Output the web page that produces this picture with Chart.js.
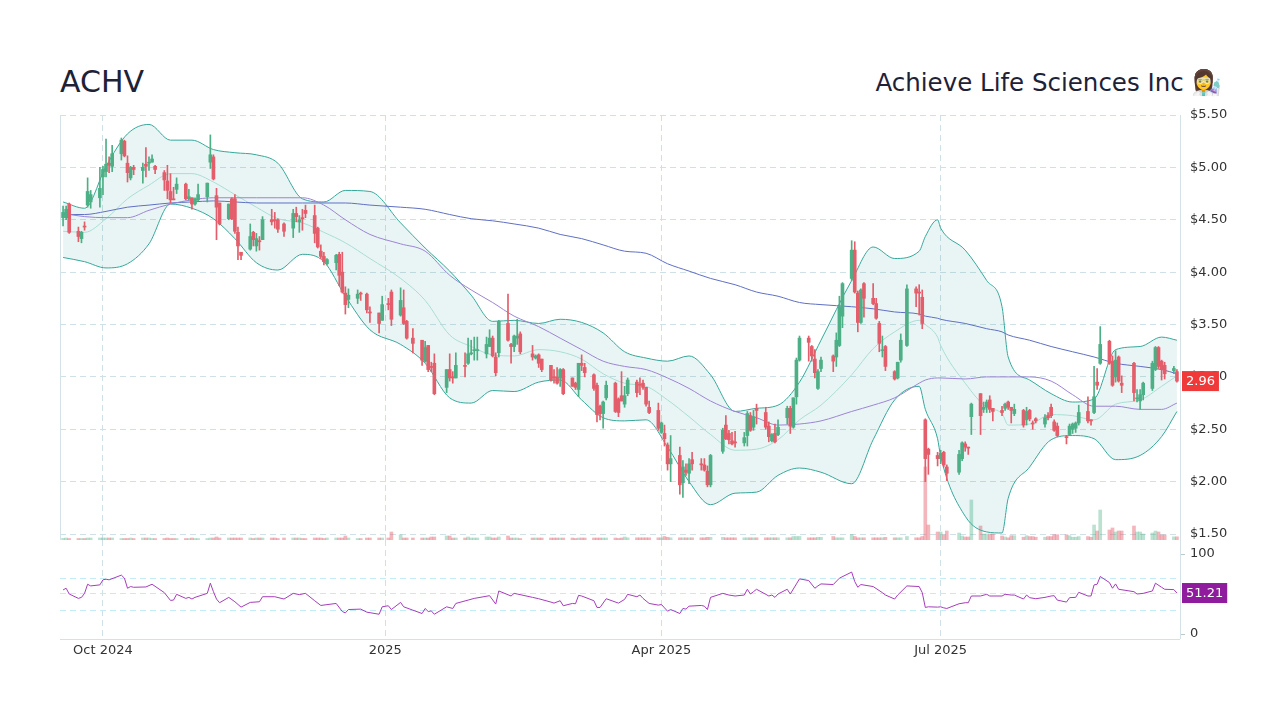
<!DOCTYPE html>
<html>
<head>
<meta charset="utf-8">
<script src="https://cdn.jsdelivr.net/npm/chart.js@4.4.1/dist/chart.umd.min.js"></script>
<style>
body { margin: 0; background: #fff; width: 1280px; height: 720px; overflow: hidden; position: relative; font-family: "DejaVu Sans", sans-serif; }
#sym { position: absolute; left: 60px; top: 67px; font-size: 30px; line-height: 30px; color: #1e2236; }
#name { position: absolute; right: 58px; top: 70px; font-size: 24.5px; line-height: 25px; color: #1e2236; white-space: nowrap; font-family: "DejaVu Sans", "Noto Color Emoji", sans-serif; }
#priceWrap { position: absolute; left: 0; top: 0; width: 1280px; height: 545px; }
#rsiWrap { position: absolute; left: 0; top: 540px; width: 1280px; height: 130px; }
</style>
</head>
<body>
<div id="sym">ACHV</div>
<div id="name">Achieve Life Sciences Inc 👩‍🔬</div>
<div id="priceWrap"><canvas id="price"></canvas></div>
<div id="rsiWrap"><canvas id="rsi"></canvas></div>
<script>
// daily candles, Sep 18 2024 .. Sep 16 2025
const openP = [
  4.52,4.52,4.65,4.39,4.32,4.44,4.64,4.67,4.71,4.91,
  4.96,5.04,5.01,5.13,5.25,5.04,4.90,5.00,4.97,5.03,
  5.04,5.05,5.01,4.95,4.87,4.77,4.70,4.79,4.84,4.70,
  4.71,4.65,4.69,4.72,5.05,5.10,4.73,4.66,4.51,4.70,
  4.70,4.38,4.19,4.22,4.38,4.25,4.30,4.31,4.50,4.50,
  4.50,4.46,4.42,4.56,4.48,4.52,4.59,4.54,4.42,4.20,
  4.15,4.08,4.09,4.17,4.00,3.80,3.74,3.75,3.80,3.79,
  3.62,3.61,3.54,3.70,3.81,3.59,3.66,3.53,3.37,3.35,
  3.15,3.30,3.10,3.13,2.90,3.07,3.00,2.99,3.11,3.13,
  3.22,3.25,3.25,3.22,3.29,3.37,3.19,3.23,3.51,3.31,
  3.29,3.37,3.41,3.22,3.18,3.21,3.17,3.11,3.00,3.00,
  2.99,3.07,2.99,2.94,2.88,3.13,3.09,3.02,2.92,2.72,
  2.65,2.80,2.94,2.79,2.82,2.74,2.84,2.95,2.93,2.94,
  2.90,2.71,2.68,2.47,2.46,2.35,2.17,2.25,1.99,2.11,
  2.08,2.21,2.17,2.16,2.10,1.97,2.29,2.54,2.46,2.39,
  2.38,2.37,2.44,2.63,2.52,2.70,2.66,2.53,2.39,2.46,
  2.45,2.61,2.70,2.52,2.81,3.16,3.37,3.29,3.17,2.89,
  3.08,3.20,3.19,3.30,3.58,3.94,4.21,3.80,3.52,3.89,
  3.75,3.70,3.51,3.25,3.29,3.05,2.99,3.16,3.30,3.84,
  3.81,3.76,2.59,2.31,2.25,2.22,2.28,2.14,2.09,2.22,
  2.36,2.33,2.62,2.84,2.69,2.71,2.78,2.70,2.68,2.70,
  2.76,2.71,2.65,2.68,2.59,2.68,2.56,2.60,2.55,2.63,
  2.71,2.57,2.53,2.43,2.45,2.50,2.51,2.56,2.67,2.59,
  2.66,2.95,3.13,3.34,3.15,3.00,3.19,2.94,3.13,2.79,
  2.77,2.83,2.89,3.07,3.28,3.15,3.11,3.06,3.05
];
const highP = [
  4.63,4.63,4.66,4.43,4.39,4.48,4.90,4.78,5.00,5.01,
  5.27,5.10,5.21,5.28,5.26,5.11,5.01,5.02,5.04,5.19,
  5.10,5.12,5.02,4.97,5.02,4.94,4.81,4.90,4.85,4.79,
  4.71,4.71,4.84,4.85,5.31,5.12,4.80,4.66,4.65,4.71,
  4.74,4.43,4.19,4.46,4.39,4.37,4.34,4.53,4.60,4.57,
  4.51,4.47,4.60,4.62,4.54,4.60,4.64,4.64,4.43,4.26,
  4.19,4.13,4.17,4.19,4.19,3.86,3.84,3.83,3.81,3.80,
  3.67,3.61,3.77,3.75,3.83,3.85,3.83,3.54,3.46,3.35,
  3.34,3.30,3.14,3.22,3.07,3.22,3.05,3.23,3.23,3.37,
  3.35,3.38,3.38,3.38,3.45,3.39,3.23,3.54,3.79,3.32,
  3.40,3.55,3.43,3.30,3.21,3.22,3.17,3.11,3.07,3.09,
  3.08,3.08,2.99,2.95,3.13,3.21,3.13,3.03,2.94,2.73,
  2.77,2.96,2.95,2.80,3.05,2.91,2.99,2.97,2.99,2.97,
  2.90,2.77,2.75,2.57,2.54,2.37,2.44,2.33,2.20,2.17,
  2.22,2.28,2.22,2.22,2.15,2.26,2.51,2.63,2.49,2.47,
  2.48,2.47,2.67,2.66,2.68,2.74,2.71,2.57,2.46,2.55,
  2.59,2.72,2.72,2.80,3.18,3.39,3.39,3.30,3.26,3.07,
  3.19,3.21,3.42,3.77,3.90,4.30,4.29,3.82,3.84,3.90,
  3.89,3.75,3.53,3.39,3.30,3.06,3.14,3.41,3.88,3.86,
  3.88,3.83,2.60,2.32,2.28,2.30,2.29,2.16,2.30,2.38,
  2.38,2.33,2.75,2.84,2.76,2.78,2.82,2.70,2.72,2.75,
  2.77,2.71,2.74,2.69,2.71,2.69,2.58,2.61,2.64,2.66,
  2.74,2.59,2.56,2.44,2.55,2.56,2.57,2.73,2.81,2.59,
  3.10,3.08,3.48,3.35,3.20,3.25,3.20,3.01,3.14,2.88,
  2.88,2.95,3.15,3.29,3.29,3.16,3.14,3.10,3.07
];
const lowP = [
  4.44,4.50,4.37,4.29,4.28,4.40,4.62,4.61,4.62,4.74,
  4.91,4.95,4.96,5.07,5.10,4.86,4.88,4.93,4.85,4.91,
  4.97,5.05,4.94,4.78,4.70,4.66,4.69,4.75,4.69,4.69,
  4.60,4.64,4.68,4.67,4.99,4.88,4.31,4.45,4.50,4.50,
  4.37,4.12,4.12,4.21,4.25,4.20,4.21,4.31,4.45,4.42,
  4.38,4.34,4.33,4.48,4.38,4.40,4.52,4.28,4.23,4.13,
  4.07,4.07,4.02,3.87,3.80,3.60,3.66,3.70,3.73,3.61,
  3.52,3.42,3.54,3.64,3.49,3.58,3.50,3.36,3.23,3.11,
  3.14,3.05,3.05,2.83,2.85,2.96,2.94,2.99,3.00,3.12,
  3.21,3.16,3.16,3.18,3.29,3.19,3.01,3.19,3.34,3.13,
  3.24,3.31,3.22,3.16,3.17,3.09,3.05,2.96,2.94,2.93,
  2.91,2.83,2.91,2.88,2.81,3.06,3.00,2.87,2.57,2.59,
  2.51,2.78,2.66,2.62,2.77,2.71,2.82,2.81,2.83,2.88,
  2.72,2.65,2.49,2.46,2.34,2.11,2.00,1.88,1.85,2.06,
  1.98,2.11,2.11,2.10,1.95,1.95,2.27,2.40,2.36,2.35,
  2.33,2.34,2.34,2.48,2.49,2.55,2.50,2.38,2.38,2.37,
  2.44,2.55,2.46,2.51,2.74,3.15,3.15,3.15,2.99,2.88,
  3.05,3.05,3.10,3.29,3.47,3.92,3.80,3.43,3.51,3.57,
  3.69,3.55,3.24,3.19,3.06,2.97,2.98,3.14,3.29,3.67,
  3.59,3.46,2.00,2.07,2.15,2.17,2.14,2.01,2.07,2.20,
  2.29,2.26,2.45,2.45,2.66,2.66,2.66,2.58,2.63,2.68,
  2.69,2.56,2.63,2.52,2.54,2.58,2.50,2.56,2.52,2.59,
  2.61,2.48,2.43,2.36,2.44,2.46,2.47,2.54,2.56,2.54,
  2.65,2.88,3.12,3.12,2.91,2.95,2.95,2.85,2.77,2.76,
  2.69,2.78,2.87,3.06,3.08,2.97,2.98,3.03,2.95
];
const closeP = [
  4.57,4.60,4.38,4.34,4.38,4.43,4.77,4.74,4.80,4.98,
  5.03,5.02,5.13,5.26,5.11,4.95,5.00,4.98,5.00,5.01,
  5.05,5.08,4.98,4.88,4.78,4.69,4.69,4.84,4.70,4.72,
  4.65,4.70,4.74,4.85,5.12,4.89,4.62,4.46,4.65,4.51,
  4.39,4.25,4.16,4.34,4.31,4.32,4.29,4.50,4.48,4.49,
  4.41,4.39,4.56,4.53,4.50,4.51,4.56,4.37,4.24,4.15,
  4.10,4.12,4.16,3.97,3.81,3.69,3.78,3.79,3.79,3.64,
  3.61,3.51,3.69,3.69,3.55,3.73,3.51,3.37,3.32,3.16,
  3.28,3.07,3.09,2.84,3.07,2.99,2.99,3.11,3.10,3.22,
  3.23,3.26,3.26,3.31,3.37,3.20,3.04,3.53,3.35,3.29,
  3.39,3.39,3.24,3.19,3.20,3.13,3.07,2.97,2.99,2.94,
  3.07,2.84,2.91,2.90,3.13,3.11,3.04,2.89,2.64,2.65,
  2.76,2.92,2.67,2.66,2.77,2.82,2.97,2.85,2.92,2.90,
  2.74,2.66,2.51,2.56,2.41,2.17,2.22,1.97,2.14,2.09,
  2.17,2.17,2.16,2.11,1.97,2.25,2.49,2.41,2.40,2.36,
  2.37,2.42,2.65,2.49,2.62,2.68,2.52,2.43,2.45,2.38,
  2.52,2.70,2.53,2.80,3.16,3.37,3.33,3.20,3.04,3.05,
  3.16,3.15,3.35,3.67,3.89,4.21,3.81,3.52,3.83,3.75,
  3.70,3.56,3.32,3.26,3.10,2.98,3.14,3.35,3.84,3.80,
  3.80,3.51,2.22,2.26,2.22,2.27,2.16,2.08,2.26,2.37,
  2.33,2.32,2.74,2.63,2.71,2.76,2.69,2.67,2.66,2.74,
  2.71,2.68,2.69,2.54,2.67,2.60,2.55,2.58,2.61,2.61,
  2.63,2.49,2.44,2.42,2.53,2.55,2.56,2.66,2.58,2.58,
  2.81,2.92,3.31,3.13,2.92,3.16,2.96,2.92,2.85,2.80,
  2.83,2.94,3.13,3.28,3.10,3.07,3.03,3.08,2.96
];
// thousands of shares
const volume = [
  170,200,150,150,150,150,200,200,200,200,
  200,200,200,150,150,150,200,150,200,200,
  200,150,150,150,200,150,150,150,150,150,
  200,150,150,150,200,200,300,200,200,200,
  200,200,200,200,150,200,200,200,200,200,
  150,200,200,200,200,150,150,200,200,200,
  150,200,200,200,200,400,200,150,150,200,
  200,200,200,200,800,520,200,200,200,200,
  200,200,300,300,400,400,200,200,200,300,
  200,200,200,300,300,200,200,300,400,200,
  200,200,150,200,200,200,200,200,200,200,
  200,200,200,150,200,200,200,200,200,200,
  200,200,200,150,200,300,220,220,220,220,
  220,220,220,220,350,270,220,220,220,220,
  220,220,220,220,270,270,270,220,220,220,
  220,220,220,220,220,220,220,220,220,220,
  220,220,220,350,350,350,220,220,220,270,
  270,350,220,220,220,550,350,220,220,220,
  220,220,220,220,270,220,220,220,350,220,
  220,350,7300,1500,800,800,500,900,700,400,
  300,300,4000,1400,600,600,600,600,400,300,
  220,430,430,280,430,340,340,280,280,340,
  340,530,530,530,430,280,280,340,340,280,
  1500,900,3000,1000,1200,800,900,900,1400,800,
  800,600,700,900,800,500,500,320,320
];

// indicator lines, read at these candle indices
const bandIdx = [0,5,10,15,20,25,30,35,40,45,50,55,60,65,70,75,80,85,90,95,100,105,110,115,120,125,130,135,140,145,150,155,160,165,170,175,180,185,190,192,194,195,200,205,208,210,215,220,225,230,235,240,245,248];
const bbUpper = [4.67,4.61,5.01,5.32,5.41,5.26,5.26,5.17,5.14,5.12,5.04,4.70,4.67,4.78,4.77,4.47,4.23,4.01,3.78,3.53,3.54,3.51,3.55,3.52,3.42,3.24,3.18,3.15,3.20,3.02,2.67,2.70,2.73,2.95,3.35,3.92,4.24,4.13,4.20,4.34,4.50,4.42,4.21,3.92,3.67,3.19,2.97,2.84,2.76,2.79,3.26,3.29,3.38,3.35];
const bbMiddle = [4.39,4.38,4.51,4.70,4.83,4.94,4.94,4.86,4.74,4.62,4.51,4.47,4.38,4.28,4.13,3.94,3.73,3.40,3.29,3.21,3.20,3.26,3.24,3.17,3.03,2.94,2.91,2.78,2.62,2.45,2.30,2.31,2.40,2.59,2.73,3.02,3.27,3.43,3.54,3.50,3.38,3.30,2.94,2.71,2.65,2.54,2.55,2.64,2.63,2.59,2.74,2.78,2.91,3.01];
const bbLower = [4.14,4.10,4.04,4.08,4.27,4.65,4.61,4.51,4.32,4.09,4.02,4.17,4.10,3.77,3.45,3.31,3.13,2.80,2.75,2.87,2.86,2.95,2.97,2.78,2.61,2.58,2.59,2.33,2.00,1.78,1.89,1.90,2.06,2.13,2.09,1.98,2.40,2.78,2.91,2.69,2.41,2.24,1.67,1.52,1.51,1.84,2.14,2.40,2.44,2.41,2.21,2.25,2.43,2.67];
const sma50 = [4.56,4.53,4.52,4.52,4.59,4.65,4.69,4.71,4.71,4.71,4.71,4.71,4.64,4.50,4.36,4.27,4.20,3.97,3.83,3.71,3.58,3.48,3.37,3.26,3.15,3.10,3.07,2.99,2.89,2.77,2.67,2.61,2.54,2.55,2.58,2.67,2.73,2.80,2.94,2.97,2.99,2.99,2.98,3.00,3.00,3.00,3.00,2.96,2.83,2.72,2.72,2.69,2.69,2.75];
const sma200 = [4.55,4.55,4.58,4.62,4.64,4.66,4.67,4.68,4.67,4.66,4.66,4.66,4.66,4.66,4.64,4.62,4.60,4.55,4.51,4.49,4.46,4.42,4.36,4.32,4.26,4.20,4.18,4.08,4.01,3.94,3.88,3.81,3.77,3.71,3.69,3.67,3.65,3.62,3.60,3.58,3.56,3.55,3.51,3.46,3.43,3.40,3.35,3.29,3.24,3.19,3.13,3.10,3.07,3.03];

const rsiIdx = [0,1,2,3,4,5,6,7,8,9,10,11,13,14,15,16,17,19,21,23,25,26,27,28,29,30,31,33,34,35,36,37,38,40,42,43,46,47,49,51,52,54,56,57,59,62,64,65,66,68,69,71,72,73,74,75,76,78,79,80,81,82,83,84,86,87,89,91,94,96,97,99,100,101,103,105,107,108,110,111,112,113,114,115,117,118,119,121,123,125,126,127,128,129,131,132,133,134,135,136,137,138,139,140,142,143,144,145,146,148,150,151,152,153,154,155,156,157,158,159,160,161,162,164,165,166,168,169,170,171,173,175,176,177,178,180,183,184,185,186,188,190,191,192,193,194,195,196,197,198,200,201,202,203,205,206,208,209,211,212,213,214,215,217,218,220,221,222,223,224,226,227,228,229,230,231,232,233,234,235,236,238,239,241,242,243,245,246,247,248];
const rsiVal = [55.1,57.2,50.0,44.5,45.8,50.8,62.2,60.1,61.4,67.7,68.5,67.7,73.6,69.8,57.2,59.3,58.4,58.8,62.2,51.7,42.0,42.4,49.6,44.5,45.8,43.7,45.8,50.8,63.5,52.9,43.7,39.1,45.8,40.3,33.6,39.5,40.3,46.6,46.6,43.7,50.8,49.2,50.8,41.6,35.7,38.2,28.1,26.4,30.6,31.1,27.3,24.7,34.0,35.3,30.6,39.5,34.0,29.8,25.6,31.9,28.1,28.9,24.7,34.0,31.9,38.2,42.4,44.5,47.9,37.4,53.8,47.5,50.8,50.0,45.8,44.1,39.9,38.6,41.6,35.3,38.2,37.8,48.3,47.5,41.6,33.2,33.2,44.1,38.6,43.3,49.6,46.6,48.7,44.5,38.2,36.1,36.9,32.7,28.5,30.6,25.6,31.9,31.1,34.8,35.7,34.8,30.6,45.8,50.8,48.7,47.5,48.7,55.9,50.0,52.9,55.9,49.6,47.5,48.7,45.8,50.0,55.9,50.0,62.6,68.9,66.8,57.2,60.1,62.6,61.8,69.8,77.4,65.6,58.4,61.8,59.3,51.7,48.7,43.7,48.7,60.1,59.3,51.7,33.2,34.0,33.6,34.0,32.7,31.9,37.8,39.1,39.1,47.5,47.5,49.6,47.5,47.5,49.6,48.7,48.7,43.7,48.7,45.4,44.1,45.8,47.5,47.9,42.4,39.9,45.4,45.8,52.1,47.5,47.5,61.4,62.2,71.9,64.3,57.2,62.6,55.9,52.9,50.0,50.8,53.8,63.5,58.4,55.9,55.5,51.21];

const priceTicks = [1.5, 2.0, 2.5, 3.0, 3.5, 4.0, 4.5, 5.0, 5.5];
const tickDates = ['2024-10-01', '2025-01-01', '2025-04-01', '2025-07-01'];
const tickLabels = ['Oct 2024', '2025', 'Apr 2025', 'Jul 2025'];
const holidays = ['2024-11-28','2024-12-25','2025-01-01','2025-01-09','2025-01-20','2025-02-17','2025-04-18','2025-05-26','2025-06-19','2025-07-04','2025-09-01'];

const DAY = 86400000;
const startT = Date.UTC(2024, 8, 17);   // left edge of the plot
const endT = Date.UTC(2025, 8, 17);     // right edge

function dayOf(iso) {
  return (Date.parse(iso + 'T00:00:00Z') - startT) / DAY;
}

// trading days after the left edge, one per candle
function tradingDays(n) {
  let out = [];
  let t = startT + DAY;
  while (out.length < n) {
    let d = new Date(t);
    let wd = d.getUTCDay();
    let iso = d.toISOString().slice(0, 10);
    if (wd !== 0 && wd !== 6 && !holidays.includes(iso)) out.push((t - startT) / DAY);
    t += DAY;
  }
  return out;
}

const days = tradingDays(closeP.length);
const tickDays = tickDates.map(dayOf);
const xMax = (endT - startT) / DAY;

Chart.defaults.font.family = "'DejaVu Sans', sans-serif";
Chart.defaults.font.size = 13;
Chart.defaults.color = '#333';

const upCol = '#4caf85';
const downCol = '#e35d6a';
const bandCol = '#35a89a';
const gridCol = '#cfe0e7';
const axisCol = '#d4e2e8';

const isUp = closeP.map((c, i) => c >= openP[i]);
const candleCols = isUp.map(u => u ? upCol : downCol);
const volCols = isUp.map(u => u ? 'rgba(76,175,133,0.38)' : 'rgba(227,93,106,0.45)');

const wickData = days.map((d, i) => ({ x: d, y: [lowP[i], highP[i]] }));
const bodyData = days.map((d, i) => ({ x: d, y: [openP[i], closeP[i]] }));
const volData = days.map((d, i) => ({ x: d, y: volume[i] }));
const bandLine = arr => bandIdx.map((k, j) => ({ x: days[k], y: arr[j] }));
const rsiData = rsiIdx.map((k, j) => ({ x: days[k], y: rsiVal[j] }));

function lineSet(data, color, extra) {
  return Object.assign({
    type: 'line', data: data, borderColor: color, borderWidth: 1,
    pointRadius: 0, fill: false, cubicInterpolationMode: 'monotone'
  }, extra || {});
}

// axis frame plus the last-value tag on the right
function framePlugin(id, value, tagColor, withBottom) {
  return {
    id: id,
    afterDraw(chart) {
      const { ctx, chartArea: a } = chart;
      ctx.save();
      ctx.strokeStyle = axisCol;
      ctx.lineWidth = 1;
      ctx.beginPath();
      ctx.moveTo(a.right + 0.5, a.top);
      ctx.lineTo(a.right + 0.5, a.bottom);
      if (withBottom) {
        ctx.moveTo(a.left, a.bottom + 0.5);
        ctx.lineTo(a.right, a.bottom + 0.5);
      } else {
        ctx.moveTo(a.left + 0.5, a.top);
        ctx.lineTo(a.left + 0.5, a.bottom);
      }
      ctx.stroke();

      const y = chart.scales.y.getPixelForValue(value);
      const txt = value.toFixed(2);
      ctx.font = "13px 'DejaVu Sans', sans-serif";
      const w = ctx.measureText(txt).width + 8;
      ctx.fillStyle = tagColor;
      ctx.fillRect(a.right + 2, y - 10, w, 20);
      ctx.fillStyle = '#fff';
      ctx.textAlign = 'left';
      ctx.textBaseline = 'middle';
      ctx.fillText(txt, a.right + 6, y + 1);
      ctx.restore();
    }
  };
}

// fixed axis width, no extra label padding above/below the plot
function fitRight(s) {
  s.width = 100;
  s.paddingTop = 0;
  s.paddingBottom = 0;
}

const xGrid = {
  type: 'linear', min: 0, max: xMax, offset: false,
  afterBuildTicks: s => { s.ticks = tickDays.map(v => ({ value: v })); },
  grid: { color: gridCol, drawTicks: false, offset: false },
  border: { display: false, dash: [6, 4] }
};

new Chart(document.getElementById('price'), {
  data: {
    datasets: [
      lineSet(bandLine(bbUpper), bandCol, { fill: '+1', backgroundColor: 'rgba(53,168,154,0.11)', order: 4 }),
      lineSet(bandLine(bbLower), bandCol, { order: 4 }),
      lineSet(bandLine(bbMiddle), '#a9ddd5', { order: 3 }),
      lineSet(bandLine(sma50), '#9c84d4', { order: 2 }),
      lineSet(bandLine(sma200), '#5f6fc4', { order: 2 }),
      { type: 'bar', data: volData, yAxisID: 'yv', backgroundColor: volCols, barThickness: 3, grouped: false, order: 5 },
      { type: 'bar', data: wickData, backgroundColor: candleCols, barThickness: 1, grouped: false, order: 1 },
      { type: 'bar', data: bodyData, backgroundColor: candleCols, barThickness: 3, grouped: false, minBarLength: 1, order: 0 }
    ]
  },
  options: {
    responsive: true,
    maintainAspectRatio: false,
    animation: false,
    layout: { padding: { left: 60, top: 115, right: 0, bottom: 5 } },
    plugins: { legend: { display: false }, tooltip: { enabled: false } },
    scales: {
      x: Object.assign({}, xGrid, {
        ticks: { display: false },
        afterFit: s => { s.height = 0; }
      }),
      y: {
        position: 'right',
        min: 1.443, max: 5.5,
        afterBuildTicks: s => { s.ticks = priceTicks.map(v => ({ value: v })); },
        ticks: { callback: v => '$' + v.toFixed(2), padding: 10, color: '#333' },
        grid: { color: gridCol, drawTicks: false },
        border: { display: false, dash: [6, 4] },
        afterFit: fitRight
      },
      yv: { display: false, min: 0, max: 42500 }
    }
  },
  plugins: [framePlugin('priceFrame', closeP[closeP.length - 1], '#f03a3a', false)]
});

new Chart(document.getElementById('rsi'), {
  type: 'line',
  data: {
    datasets: [
      { data: rsiData, borderColor: '#a63cbb', borderWidth: 1, pointRadius: 0, tension: 0 }
    ]
  },
  options: {
    responsive: true,
    maintainAspectRatio: false,
    animation: false,
    layout: { padding: { left: 60, top: 0, right: 0, bottom: 0 } },
    plugins: { legend: { display: false }, tooltip: { enabled: false } },
    scales: {
      x: Object.assign({}, xGrid, {
        ticks: {
          padding: 4, maxRotation: 0, autoSkip: false, color: '#333',
          callback: v => tickLabels[tickDays.indexOf(v)]
        },
        afterFit: s => { s.height = 31; }
      }),
      y: {
        position: 'right',
        min: -6.25, max: 117.5,
        afterBuildTicks: s => { s.ticks = [0, 30, 50, 70, 100].map(v => ({ value: v })); },
        ticks: { callback: v => (v === 0 || v === 100) ? String(v) : '', padding: 5, color: '#333' },
        grid: {
          color: c => [30, 50, 70].includes(c.tick && c.tick.value) ? '#c4ecf6' : 'rgba(0,0,0,0)',
          tickColor: c => (c.tick && (c.tick.value === 0 || c.tick.value === 100)) ? '#b8ccd4' : 'rgba(0,0,0,0)',
          tickLength: 5
        },
        border: { display: false, dash: [6, 4] },
        afterFit: fitRight
      }
    }
  },
  plugins: [framePlugin('rsiFrame', rsiVal[rsiVal.length - 1], '#8f1c9c', true)]
});
</script>
</body>
</html>
